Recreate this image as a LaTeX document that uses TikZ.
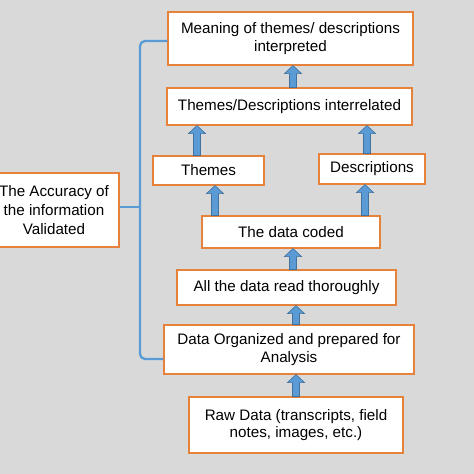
\documentclass[tikz,border=0pt]{standalone}
\usepackage{fontspec}
\setmainfont{Liberation Sans}
\usetikzlibrary{calc}
\definecolor{bgc}{RGB}{217,217,217}
\definecolor{boxedge}{RGB}{230,130,60}
\definecolor{arrfill}{RGB}{91,155,213}
\definecolor{arredge}{RGB}{65,113,156}
\begin{document}
\begin{tikzpicture}[x=1pt,y=-1pt,
  box/.style={draw=boxedge,line width=1.1pt,fill=white,inner sep=0pt,align=center,
    font=\fontsize{15.2}{17.5}\selectfont},
  barrow/.style={fill=arrfill,draw=arredge,line width=0.6pt,
    to path={let \p1=(\tikztostart),\p2=(\tikztotarget) in
      ({\x1-3.5pt},\y1) -- ({\x1+3.5pt},\y1) -- ({\x1+3.5pt},{\y2-8pt}) -- ({\x1+8.5pt},{\y2-8pt})
      -- (\x1,\y2) -- ({\x1-8.5pt},{\y2-8pt}) -- ({\x1-3.5pt},{\y2-8pt}) -- cycle}},
  bracket/.style={draw=arrfill,line width=2.3pt}]
\fill[bgc] (0,0) rectangle (474,474);
\useasboundingbox (0,0) rectangle (474,474);
\node[box,minimum width=245pt,minimum height=53pt] (meaning) at (290.5,38.5) {Meaning of themes/ descriptions\\interpreted};
\node[box,minimum width=245pt,minimum height=37pt] (inter) at (289.5,106.5) {Themes/Descriptions interrelated};
\node[box,minimum width=111pt,minimum height=29pt] (themes) at (208.5,170.5) {Themes};
\node[box,minimum width=106pt,minimum height=30pt] (desc) at (372,169) {Descriptions};
\node[box,minimum width=178pt,minimum height=32pt] (coded) at (291,232) {The data coded};
\node[box,minimum width=219pt,minimum height=35pt] (read) at (286.5,287.5) {All the data read thoroughly};
\node[box,minimum width=250pt,minimum height=49pt] (org) at (289,349.5) {Data Organized and prepared for\\Analysis};
\node[box,minimum width=214pt,minimum height=56pt] (raw) at (296,425) {Raw Data (transcripts, field\\notes, images, etc.)};
\node[box,minimum width=130pt,minimum height=74pt,font=\fontsize{15.2}{19}\selectfont] (acc) at (54,210) {The Accuracy of\\the information\\Validated};
% block arrows
\draw[barrow] (raw.north -| 296,0) to (org.south -| 296,0);
\draw[barrow] (org.north -| 296,0) to (read.south -| 296,0);
\draw[barrow] (read.north -| 293,0) to (coded.south -| 293,0);
\draw[barrow] (coded.north -| 215,0) to (themes.south -| 215,0);
\draw[barrow] (coded.north -| 365,0) to (desc.south -| 365,0);
\draw[barrow] (themes.north -| 197,0) to (inter.south -| 197,0);
\draw[barrow] (desc.north -| 367,0) to (inter.south -| 367,0);
\draw[barrow] (inter.north -| 293,0) to (meaning.south -| 293,0);
% bracket
\coordinate (spine) at (140,207);
\draw[bracket,rounded corners=5pt] (meaning.west |- 0,41) -| (spine) |- (org.west |- 0,359);
\draw[bracket] (acc.east |- spine) -- (spine);
\end{tikzpicture}
\end{document}
